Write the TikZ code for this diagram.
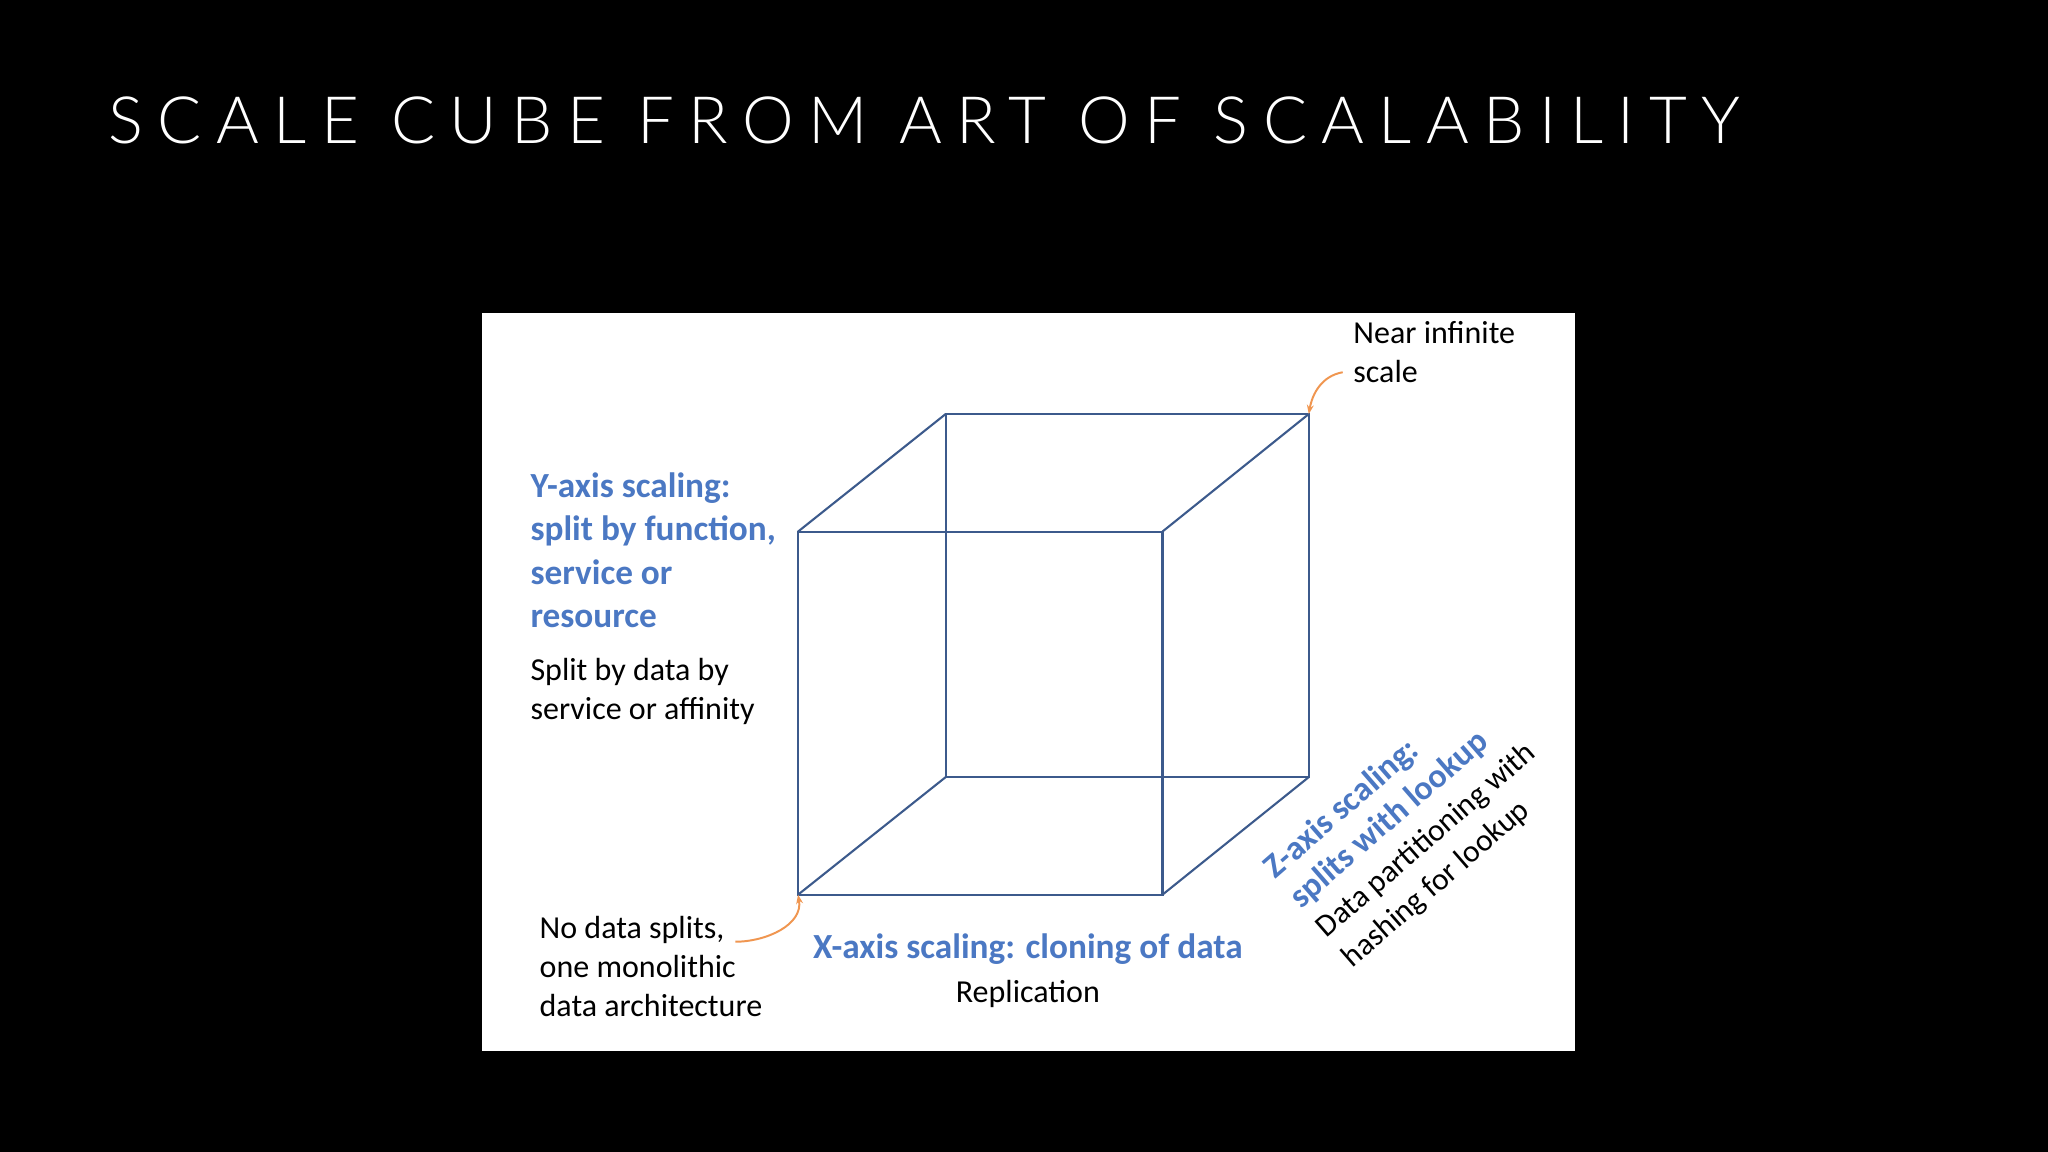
\documentclass[tikz,border=0pt]{standalone}
\usetikzlibrary{arrows.meta}
\usepackage{fontspec}
\setmainfont{Carlito}
\newfontfamily\titlefont[LetterSpace=22]{Lato Light}
\definecolor{axblue}{RGB}{75,120,195}
\definecolor{cubeblue}{RGB}{60,90,140}
\definecolor{arrorange}{RGB}{240,150,80}
\begin{document}
\begin{tikzpicture}[x=1pt,y=-1pt,
  edge/.style={draw=cubeblue,line width=1.6pt},
  bluelab/.style={text=axblue,font=\fontsize{27}{33}\selectfont\bfseries,align=left},
  blacklab/.style={text=black,font=\fontsize{24.5}{30}\selectfont,align=left},
  oarrow/.style={draw=arrorange,line width=1.5pt,-{Stealth[length=7pt]}}]
\fill[black] (0,0) rectangle (1568,882);
\useasboundingbox (0,0) rectangle (1568,882);
\node[anchor=base west,inner sep=0,text=white,font=\titlefont\fontsize{50}{50}\selectfont] (title) at (83,110) {SCALE CUBE FROM ART OF SCALABILITY};
\fill[white] (369,240) rectangle (1206,805);
% cube
\coordinate (fa) at (611,407); \coordinate (fb) at (890,407);
\coordinate (fc) at (890,685); \coordinate (fd) at (611,685);
\coordinate (ba) at (724,317); \coordinate (bb) at (1002,317);
\coordinate (bc) at (1002,595); \coordinate (bd) at (724,595);
\draw[edge] (ba)--(bb)--(bc)--(bd)--cycle;
\draw[edge] (fa)--(fb)--(fc)--(fd)--cycle;
\draw[edge] (fa)--(ba) (fb)--(bb) (fc)--(bc) (fd)--(bd);
% labels
\node[bluelab,anchor=north west,inner sep=0] (ylab) at (406,362) {Y-axis scaling:\\split by function,\\service or\\resource};
\node[blacklab,anchor=north west,inner sep=0] (ysub) at (406,504) {Split by data by\\service or affinity};
\node[blacklab,anchor=north west,inner sep=0] (near) at (1036,246) {Near infinite\\scale};
\node[blacklab,anchor=north west,inner sep=0] (nod) at (413,701) {No data splits,\\one monolithic\\data architecture};
\node[bluelab,anchor=center,inner sep=0] (xlab) at (787,727) {X-axis scaling: cloning of data};
\node[blacklab,anchor=center,inner sep=0] (xsub) at (787,761) {Replication};
\node[rotate=41,anchor=center,inner sep=0,align=left,font=\fontsize{24}{30}\selectfont] (zlab) at (1082,632)
 {{\color{axblue}\fontsize{26}{30}\selectfont\bfseries Z-axis scaling:}\\
  {\color{axblue}\fontsize{26}{30}\selectfont\bfseries splits with lookup}\\
  Data partitioning with\\
  hashing for lookup};
% arrows
\coordinate (na) at (1028,285);
\draw[oarrow] (na) to[out=190,in=80] (bb);
\coordinate (noda) at (563,721);
\draw[oarrow] (noda) to[out=0,in=-80] (fd);
\end{tikzpicture}
\end{document}
